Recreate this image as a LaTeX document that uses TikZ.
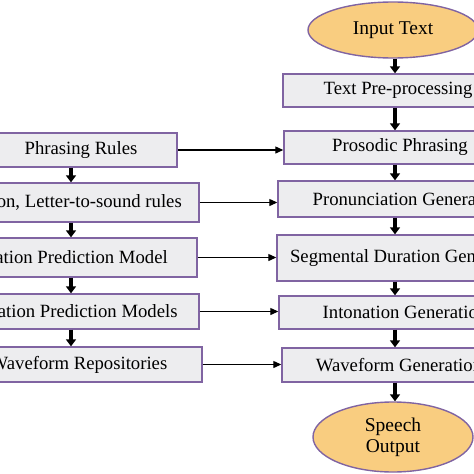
\documentclass[tikz,border=0pt]{standalone}
\usepackage{fontspec}
\setmainfont{Liberation Serif}
\usetikzlibrary{shapes.geometric,arrows.meta}
\definecolor{boxline}{HTML}{8064A2}
\definecolor{boxfill}{HTML}{EDEDEF}
\definecolor{ovalfill}{HTML}{F9CD80}
\begin{document}
\begin{tikzpicture}[x=1pt,y=-1pt,
    stage/.style={draw=boxline,line width=1.4pt,fill=boxfill,inner sep=0pt,
        font=\fontsize{18.7}{20}\selectfont},
    oval/.style={ellipse,draw=boxline,line width=1.4pt,fill=ovalfill,inner sep=0pt,
        align=center,font=\fontsize{19.5}{21}\selectfont},
    flow/.style={line width=3.8pt,-{Triangle[width=10pt,length=7pt]}},
    feed/.style={line width=1.2pt,-{Triangle[width=7pt,length=8pt]}}]
    \useasboundingbox (0,0) rectangle (474,474);
    \clip (0,0) rectangle (474,474);
    % \helpgrid{3}{3}

    % right column
    \node[oval,minimum width=170pt,minimum height=56pt] (intext) at (393,30) {Input Text};
    \node[stage,minimum width=230pt,minimum height=33pt] (pre) at (398,90.5) {Text Pre-processing};
    \node[stage,minimum width=232pt,minimum height=33pt] (pros) at (400,147.5) {Prosodic Phrasing};
    \node[stage,minimum width=262pt,minimum height=36pt] (pron) at (409,199) {Pronunciation Generation};
    \node[stage,minimum width=264pt,minimum height=46pt] (segdur) at (409,258) {Segmental Duration Generation};
    \node[stage,minimum width=252pt,minimum height=33pt] (inton) at (405,312.5) {Intonation Generation};
    \node[stage,minimum width=234pt,minimum height=34pt] (wave) at (399,365) {Waveform Generation};
    \node[oval,minimum width=160pt,minimum height=70pt] (speech) at (393,437) {Speech\\Output};

    % left column
    \node[stage,minimum width=192pt,minimum height=34pt] (phrrules) at (81,150) {Phrasing Rules};
    \node[stage,minimum width=262pt,minimum height=39pt] (lexrules) at (68,202.5) {Lexicon, Letter-to-sound rules};
    \node[stage,minimum width=260pt,minimum height=39pt] (durmodel) at (67,257.5) {Duration Prediction Model};
    \node[stage,minimum width=262pt,minimum height=35pt] (intmodel) at (68,311.5) {Intonation Prediction Models};
    \node[stage,minimum width=246pt,minimum height=35pt] (waverep) at (79,364.5) {Waveform Repositories};

    \coordinate (lcol) at (71,0);
    \coordinate (rcol) at (395,0);

    % main flow
    \draw[flow] (intext.south -| rcol) -- (pre.north -| rcol);
    \draw[flow] (pre.south -| rcol) -- (pros.north -| rcol);
    \draw[flow] (pros.south -| rcol) -- (pron.north -| rcol);
    \draw[flow] (pron.south -| rcol) -- (segdur.north -| rcol);
    \draw[flow] (segdur.south -| rcol) -- (inton.north -| rcol);
    \draw[flow] (inton.south -| rcol) -- (wave.north -| rcol);
    \draw[flow] (wave.south -| rcol) -- (speech.north -| rcol);

    \draw[flow] (phrrules.south -| lcol) -- (lexrules.north -| lcol);
    \draw[flow] (lexrules.south -| lcol) -- (durmodel.north -| lcol);
    \draw[flow] (durmodel.south -| lcol) -- (intmodel.north -| lcol);
    \draw[flow] (intmodel.south -| lcol) -- (waverep.north -| lcol);

    % knowledge sources
    \draw[feed] (phrrules.east) -- (phrrules.east -| pros.west);
    \draw[feed] (lexrules.east) -- (lexrules.east -| pron.west);
    \draw[feed] (durmodel.east) -- (durmodel.east -| segdur.west);
    \draw[feed] (intmodel.east) -- (intmodel.east -| inton.west);
    \draw[feed] (waverep.east) -- (waverep.east -| wave.west);

\end{tikzpicture}
\end{document}
